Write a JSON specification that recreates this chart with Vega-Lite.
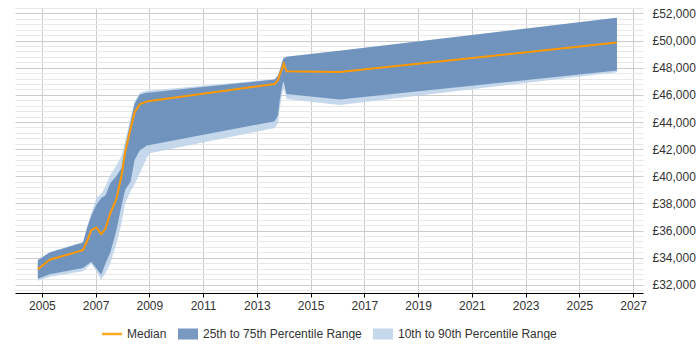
{
  "$schema": "https://vega.github.io/schema/vega-lite/v6.json",
  "width": 628,
  "height": 285,
  "padding": {"left": 15, "top": 7, "right": 0, "bottom": 0},
  "config": {
    "view": {"stroke": null},
    "font": "Liberation Sans",
    "axis": {"labelFont": "Liberation Sans", "labelFontSize": 12, "labelColor": "#333333"},
    "legend": {"labelFont": "Liberation Sans"}
  },
  "data": {
    "values": [
      {"year": 2004.85, "p10": 32300, "p25": 32450, "p50": 33150, "p75": 33820, "p90": 33850},
      {"year": 2005.29, "p10": 32590, "p25": 32790, "p50": 33850, "p75": 34380, "p90": 34400},
      {"year": 2006.53, "p10": 33000, "p25": 33250, "p50": 34550, "p75": 35120, "p90": 35150},
      {"year": 2006.70, "p10": 33300, "p25": 33500, "p50": 35300, "p75": 36300, "p90": 36400},
      {"year": 2006.84, "p10": 33530, "p25": 33700, "p50": 36030, "p75": 37090, "p90": 37300},
      {"year": 2007.03, "p10": 33000, "p25": 33200, "p50": 36230, "p75": 37900, "p90": 38400},
      {"year": 2007.21, "p10": 32350, "p25": 32750, "p50": 35740, "p75": 38400, "p90": 38700},
      {"year": 2007.37, "p10": 32900, "p25": 33600, "p50": 36150, "p75": 38600, "p90": 39300},
      {"year": 2007.55, "p10": 33600, "p25": 34400, "p50": 37300, "p75": 39500, "p90": 40100},
      {"year": 2007.77, "p10": 35000, "p25": 36000, "p50": 38300, "p75": 40000, "p90": 40800},
      {"year": 2007.96, "p10": 36500, "p25": 37800, "p50": 40000, "p75": 40600, "p90": 41500},
      {"year": 2008.10, "p10": 38000, "p25": 39000, "p50": 41800, "p75": 42200, "p90": 42600},
      {"year": 2008.30, "p10": 38900, "p25": 39600, "p50": 43500, "p75": 44000, "p90": 44300},
      {"year": 2008.45, "p10": 39400, "p25": 41200, "p50": 44700, "p75": 45340, "p90": 45500},
      {"year": 2008.64, "p10": 40200, "p25": 41900, "p50": 45300, "p75": 46000, "p90": 46150},
      {"year": 2008.89, "p10": 41300, "p25": 42250, "p50": 45500, "p75": 46150, "p90": 46300},
      {"year": 2009.01, "p10": 41700, "p25": 42300, "p50": 45550, "p75": 46170, "p90": 46320},
      {"year": 2013.66, "p10": 43550, "p25": 44050, "p50": 46800, "p75": 47130, "p90": 47150},
      {"year": 2013.79, "p10": 43900, "p25": 44500, "p50": 47100, "p75": 47420, "p90": 47430},
      {"year": 2013.85, "p10": 45000, "p25": 45580, "p50": 47500, "p75": 47800, "p90": 47800},
      {"year": 2013.97, "p10": 46300, "p25": 46930, "p50": 48100, "p75": 48600, "p90": 48600},
      {"year": 2014.00, "p10": 46500, "p25": 46950, "p50": 48290, "p75": 48700, "p90": 48700},
      {"year": 2014.10, "p10": 45700, "p25": 46070, "p50": 47740, "p75": 48800, "p90": 48800},
      {"year": 2016.08, "p10": 45250, "p25": 45650, "p50": 47680, "p75": 49250, "p90": 49250},
      {"year": 2026.40, "p10": 47670, "p25": 47790, "p50": 49850, "p75": 51680, "p90": 51680}
    ]
  },
  "encoding": {
    "x": {
      "field": "year",
      "type": "quantitative",
      "title": null,
      "scale": {"domain": [2004, 2027.37], "nice": false, "zero": false},
      "axis": {
        "values": [2005, 2007, 2009, 2011, 2013, 2015, 2017, 2019, 2021, 2023, 2025, 2027],
        "format": "d",
        "grid": true,
        "gridColor": "#cccccc",
        "domainColor": "#000000",
        "tickColor": "#000000",
        "tickSize": 4,
        "labelPadding": 3
      }
    }
  },
  "layer": [
    {
      "mark": {"type": "area", "opacity": 0.85},
      "encoding": {
        "y": {
          "field": "p10",
          "type": "quantitative",
          "title": null,
          "scale": {"domain": [31400, 52400], "nice": false, "zero": false},
          "axis": {
            "orient": "right",
            "values": [31600, 32000, 32400, 32800, 33200, 33600, 34000, 34400, 34800, 35200, 35600, 36000, 36400, 36800, 37200, 37600, 38000, 38400, 38800, 39200, 39600, 40000, 40400, 40800, 41200, 41600, 42000, 42400, 42800, 43200, 43600, 44000, 44400, 44800, 45200, 45600, 46000, 46400, 46800, 47200, 47600, 48000, 48400, 48800, 49200, 49600, 50000, 50400, 50800, 51200, 51600, 52000, 52400],
            "labelExpr": "datum.value % 2000 === 0 ? '£' + format(datum.value, ',') : ''",
            "grid": true,
            "gridColor": {"condition": {"test": "datum.value % 2000 === 0", "value": "#cccccc"}, "value": "#e8e8e8"},
            "ticks": false,
            "domain": false,
            "labelPadding": 9
          }
        },
        "y2": {"field": "p90"},
        "color": {
          "datum": "10th to 90th Percentile Range",
          "scale": {
            "domain": ["Median", "25th to 75th Percentile Range", "10th to 90th Percentile Range"],
            "range": ["#ff9900", "#6087b5", "#bcd2e9"]
          },
          "legend": {
            "title": null,
            "orient": "none",
            "legendX": 91,
            "legendY": 320,
            "direction": "horizontal",
            "padding": 0,
            "labelFontSize": 12,
            "labelColor": "#333333",
            "symbolSize": 400,
            "columnPadding": 11,
            "labelOffset": 9,
            "symbolType": {"expr": "datum.value === 'Median' ? 'stroke' : 'M-1,-0.55H1V0.55H-1Z'"},
            "symbolStrokeWidth": {"expr": "datum.value === 'Median' ? 2.5 : 0"},
            "symbolStrokeColor": {"expr": "scale('color', datum.value)"},
            "symbolFillColor": {"expr": "scale('color', datum.value)"},
            "symbolOpacity": 1
          }
        }
      }
    },
    {
      "mark": {"type": "area", "opacity": 0.85},
      "encoding": {
        "y": {
          "field": "p25",
          "type": "quantitative",
          "title": null,
          "scale": {"domain": [31400, 52400], "nice": false, "zero": false},
          "axis": {
            "orient": "right",
            "values": [31600, 32000, 32400, 32800, 33200, 33600, 34000, 34400, 34800, 35200, 35600, 36000, 36400, 36800, 37200, 37600, 38000, 38400, 38800, 39200, 39600, 40000, 40400, 40800, 41200, 41600, 42000, 42400, 42800, 43200, 43600, 44000, 44400, 44800, 45200, 45600, 46000, 46400, 46800, 47200, 47600, 48000, 48400, 48800, 49200, 49600, 50000, 50400, 50800, 51200, 51600, 52000, 52400],
            "labelExpr": "datum.value % 2000 === 0 ? '£' + format(datum.value, ',') : ''",
            "grid": true,
            "gridColor": {"condition": {"test": "datum.value % 2000 === 0", "value": "#cccccc"}, "value": "#e8e8e8"},
            "ticks": false,
            "domain": false,
            "labelPadding": 9
          }
        },
        "y2": {"field": "p75"},
        "color": {"datum": "25th to 75th Percentile Range"}
      }
    },
    {
      "mark": {"type": "line", "strokeWidth": 2},
      "encoding": {
        "y": {
          "field": "p50",
          "type": "quantitative",
          "title": null,
          "scale": {"domain": [31400, 52400], "nice": false, "zero": false},
          "axis": {
            "orient": "right",
            "values": [31600, 32000, 32400, 32800, 33200, 33600, 34000, 34400, 34800, 35200, 35600, 36000, 36400, 36800, 37200, 37600, 38000, 38400, 38800, 39200, 39600, 40000, 40400, 40800, 41200, 41600, 42000, 42400, 42800, 43200, 43600, 44000, 44400, 44800, 45200, 45600, 46000, 46400, 46800, 47200, 47600, 48000, 48400, 48800, 49200, 49600, 50000, 50400, 50800, 51200, 51600, 52000, 52400],
            "labelExpr": "datum.value % 2000 === 0 ? '£' + format(datum.value, ',') : ''",
            "grid": true,
            "gridColor": {"condition": {"test": "datum.value % 2000 === 0", "value": "#cccccc"}, "value": "#e8e8e8"},
            "ticks": false,
            "domain": false,
            "labelPadding": 9
          }
        },
        "color": {"datum": "Median"}
      }
    }
  ]
}
